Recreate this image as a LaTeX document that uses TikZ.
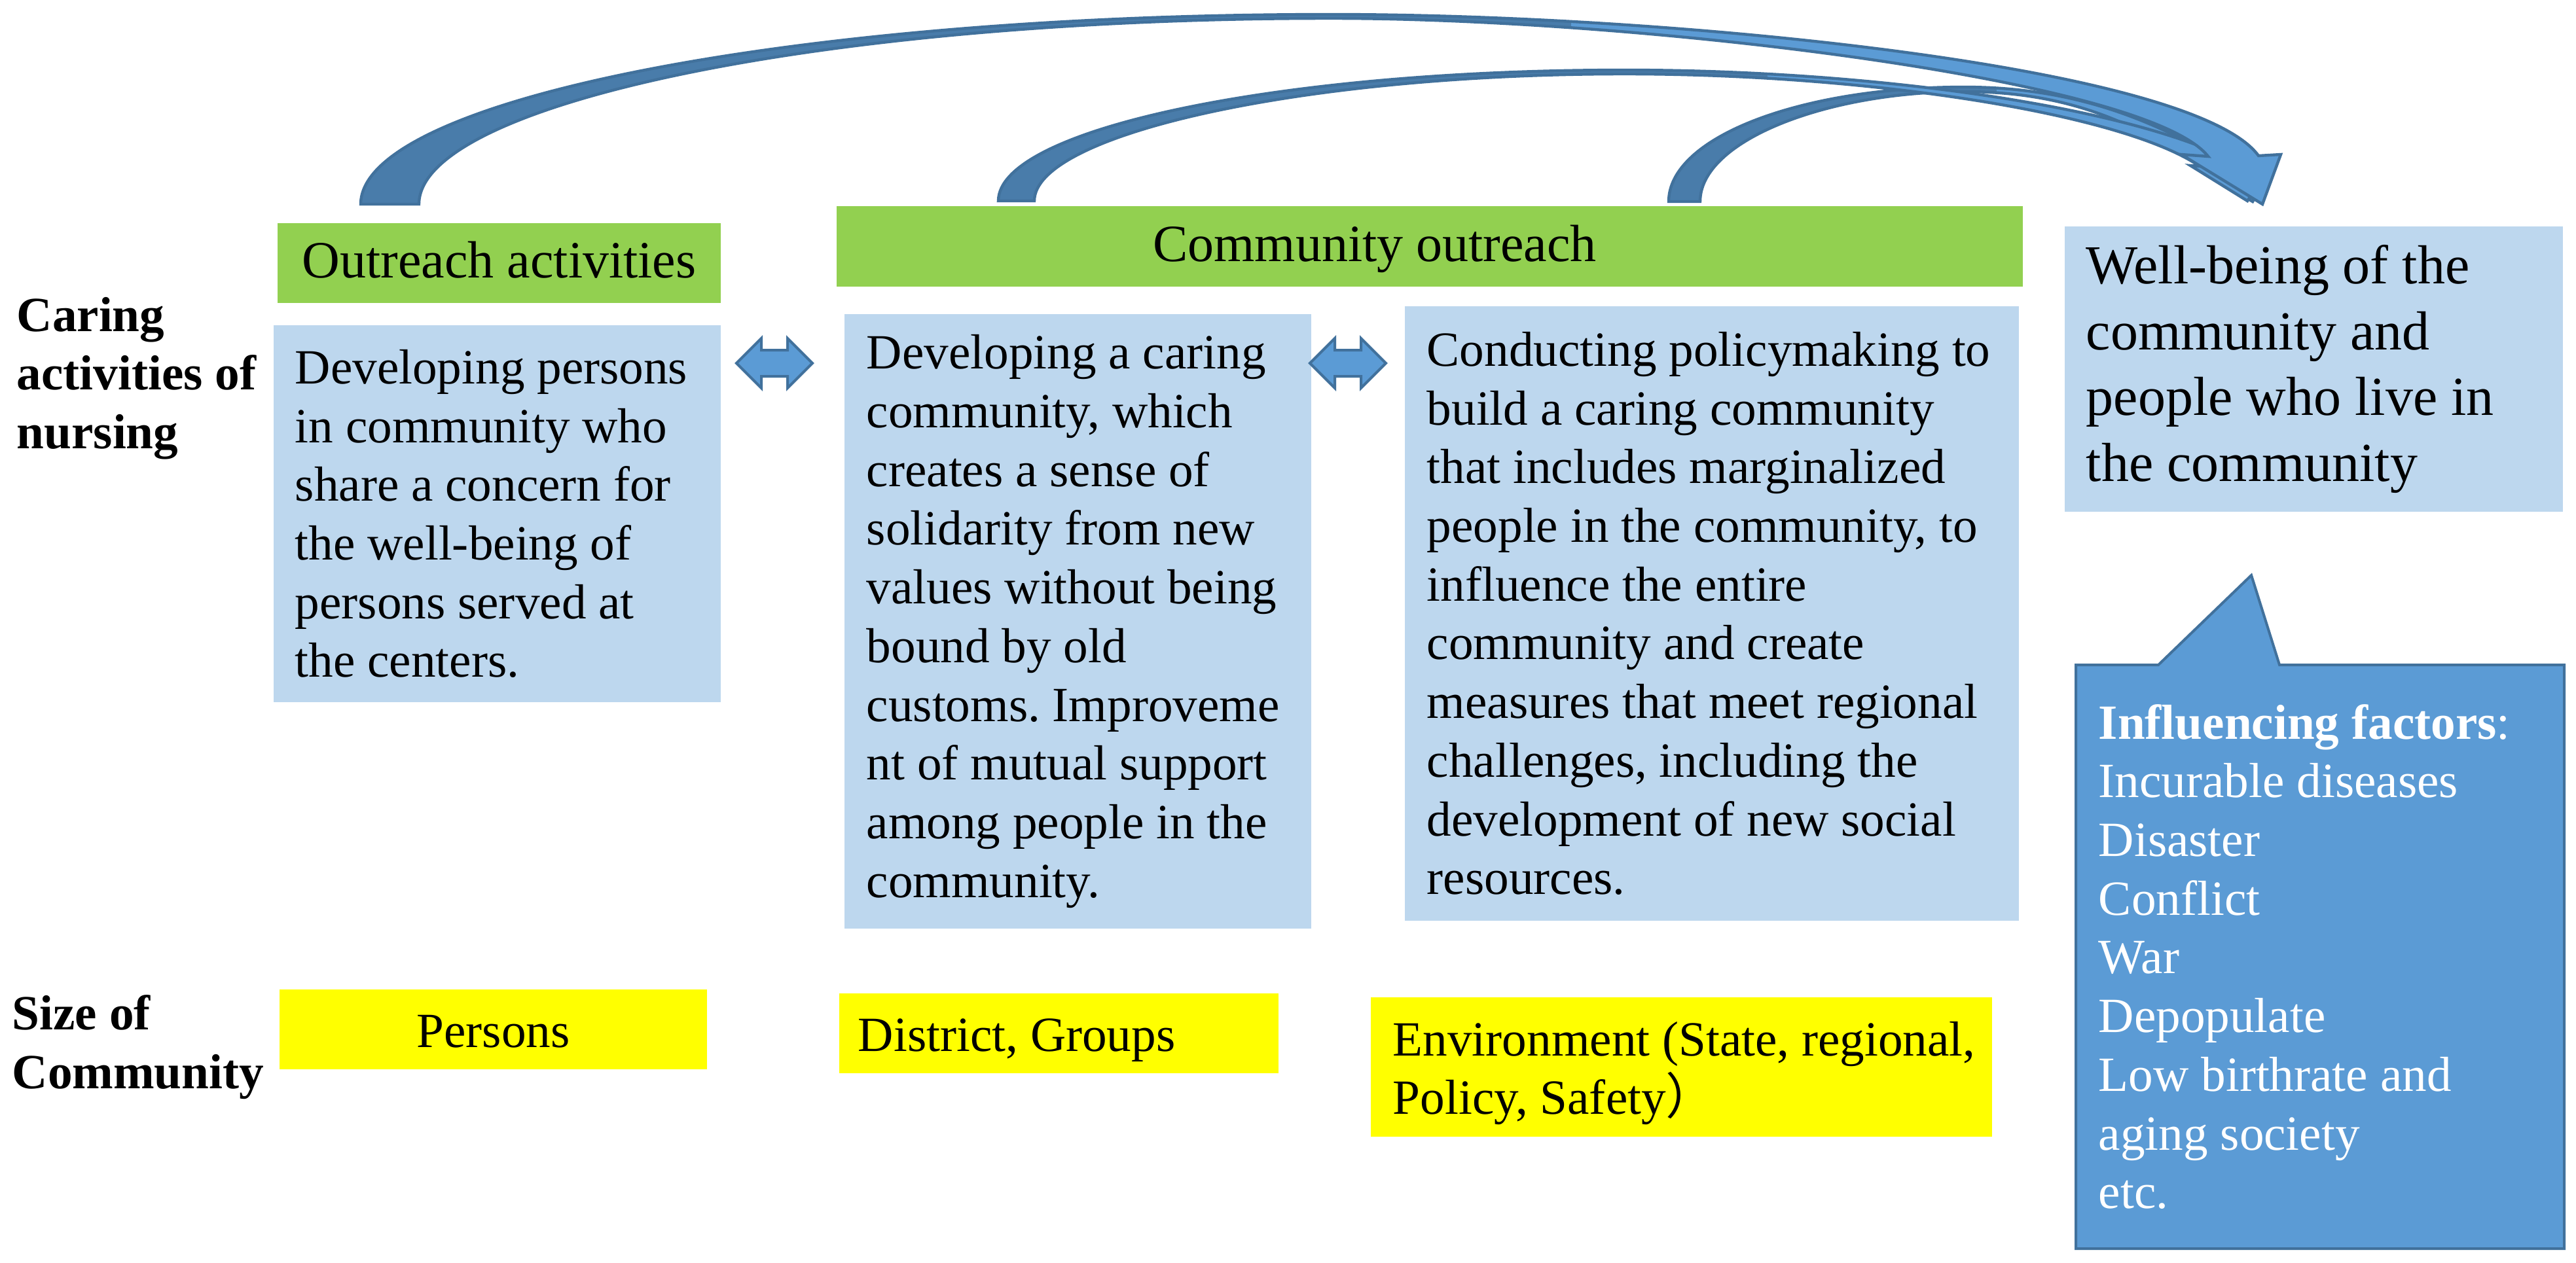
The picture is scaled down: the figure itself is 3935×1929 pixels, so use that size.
\documentclass[tikz,border=0pt]{standalone}
\usepackage{fontspec}
\setmainfont{Liberation Serif}
\newfontfamily\cjkfont{Noto Sans CJK SC}
\frenchspacing
\definecolor{grn}{RGB}{146,208,80}
\definecolor{lblue}{RGB}{189,215,238}
\definecolor{mblue}{RGB}{91,155,213}
\definecolor{dblue}{RGB}{73,124,170}
\definecolor{bord}{RGB}{65,113,156}
\definecolor{ylw}{RGB}{255,255,0}
\newcommand\bodyfont{\fontsize{18.8pt}{22.43pt}\selectfont}
\newcommand\wellfont{\fontsize{21pt}{25.1pt}\selectfont}
\newcommand\headfont{\fontsize{20pt}{24pt}\selectfont}
% band outlines (pixel coordinates)
\def\bandA{(551,312) .. controls (551,152) and (1215,22) .. (2033,22)
  .. controls (2550,22) and (3350,100) .. (3450,238)
  -- (3484,236) -- (3456,312) -- (3332,236) -- (3373,239)
  .. controls (3280,120) and (2500,28) .. (2033,28)
  .. controls (1250,28) and (640,160) .. (640,312) -- cycle}
\def\bandB{(1525,307) .. controls (1525,197) and (1954,107) .. (2482,107)
  .. controls (2850,107) and (3250,160) .. (3420,250)
  -- (3470,252) -- (3433,307) -- (3346,253) -- (3360,254)
  .. controls (3240,172) and (2850,113) .. (2482,113)
  .. controls (1990,113) and (1580,205) .. (1580,307) -- cycle}
\def\bandC{(2549,308) .. controls (2549,210) and (2750,133) .. (3000,133)
  .. controls (3180,133) and (3300,190) .. (3410,254)
  -- (3470,256) -- (3441,308) -- (3350,255) -- (3365,256)
  .. controls (3270,195) and (3170,140) .. (3000,140)
  .. controls (2790,140) and (2597,215) .. (2597,308) -- cycle}
\begin{document}
\begin{tikzpicture}[x=0.25pt,y=-0.25pt,
  box/.style={fill=lblue, inner sep=0pt},
  txt/.style={inner sep=0pt, align=left, font=\bodyfont, anchor=west},
  head/.style={fill=grn, inner sep=0pt, font=\headfont, text height=14pt, text depth=3pt},
  ybox/.style={fill=ylw, inner sep=0pt, font=\bodyfont},
  lbl/.style={inner sep=0pt, align=left, font=\bodyfont\bfseries, anchor=west},
  bandline/.style={draw=bord, line width=1.1pt, line join=miter},
  dblarrow/.style={fill=mblue, draw=bord, line width=1pt}]
\useasboundingbox (0,0) rectangle (3935,1929);
\fill[white] (0,0) rectangle (3935,1929);

% curved arrows
\path[fill=dblue] \bandC;
\begin{scope}\clip (3050,0) rectangle (3935,400); \path[fill=mblue] \bandC; \end{scope}
\path[bandline] \bandC;
\path[fill=dblue] \bandB;
\begin{scope}\clip (2700,0) rectangle (3935,400); \path[fill=mblue] \bandB; \end{scope}
\path[bandline] \bandB;
\path[fill=dblue] \bandA;
\begin{scope}\clip (2400,0) rectangle (3935,400); \path[fill=mblue] \bandA; \end{scope}
\path[bandline] \bandA;

% headers
\node[head, minimum width=169.25pt, minimum height=30.5pt] (h1) at (762.5,402) {Outreach activities};
\node[fill=grn, inner sep=0pt, minimum width=453pt, minimum height=30.75pt] (h2) at (2184,376.5) {};
\node[inner sep=0pt, font=\headfont, anchor=base] (h2t) at (2100,399.5) {Community outreach};

% main boxes
\node[box, minimum width=170.75pt, minimum height=144pt] (b1) at (759.5,785) {};
\node[txt] (b1t) at (450,785)
  {Developing persons\\ in community who\\ share a concern for\\ the well-being of\\ persons served at\\ the centers.};
\node[box, minimum width=178.25pt, minimum height=234.75pt] (b2) at (1646.5,949.5) {};
\node[txt] (b2t) at (1323,949.5)
  {Developing a caring\\ community, which\\ creates a sense of\\ solidarity from new\\ values without being\\ bound by old\\ customs. Improveme\\ nt of mutual support\\ among people in the\\ community.};
\node[box, minimum width=234.5pt, minimum height=234.75pt] (b3) at (2615,937.5) {};
\node[txt] (b3t) at (2179,937.5)
  {Conducting policymaking to\\ build a caring community\\ that includes marginalized\\ people in the community, to\\ influence the entire\\ community and create\\ measures that meet regional\\ challenges, including the\\ development of new social\\ resources.};
\node[box, minimum width=190.25pt, minimum height=109pt] (well) at (3534.5,564) {};
\node[txt, font=\wellfont] (wellt) at (3186,564)
  {Well-being of the\\ community and\\ people who live in\\ the community};

% double arrows
\path[dblarrow] (1125,555) -- (1163,517) -- (1163,535) -- (1203,535) -- (1203,517) -- (1241,555)
  -- (1203,593) -- (1203,575) -- (1163,575) -- (1163,593) -- cycle;
\path[dblarrow] (2001,555) -- (2039,517) -- (2039,535) -- (2079,535) -- (2079,517) -- (2117,555)
  -- (2079,593) -- (2079,575) -- (2039,575) -- (2039,593) -- cycle;

% callout
\path[fill=mblue, draw=bord, line width=1pt] (3171,1016) -- (3297,1016) -- (3439,879) -- (3482,1016)
  -- (3917,1016) -- (3917,1908) -- (3171,1908) -- cycle;
\node[txt, text=white] (inf) at (3205,1462)
  {\textbf{Influencing factors}:\\ Incurable diseases\\ Disaster\\ Conflict\\ War\\ Depopulate\\ Low birthrate and\\ aging society\\ etc.};

% left labels
\node[lbl] (care) at (25,578) {Caring\\ activities of\\ nursing};
\node[lbl] (size) at (18,1600) {Size of\\ Community};

% size boxes
\node[ybox, minimum width=163.25pt, minimum height=30.5pt, text height=13.5pt, text depth=0pt] (y1) at (753.5,1573) {Persons};
\node[ybox, minimum width=167.75pt, minimum height=30.5pt] (y2) at (1617.5,1579) {};
\node[inner sep=0pt, font=\bodyfont, anchor=base west] (y2t) at (1310,1606) {District, Groups};
\node[ybox, minimum width=237.25pt, minimum height=53.25pt] (y3) at (2568.5,1630.5) {};
\node[txt] (y3t) at (2127,1640) {Environment (State, regional,\\ Policy, Safety{\cjkfont ）}};
\end{tikzpicture}
\end{document}
